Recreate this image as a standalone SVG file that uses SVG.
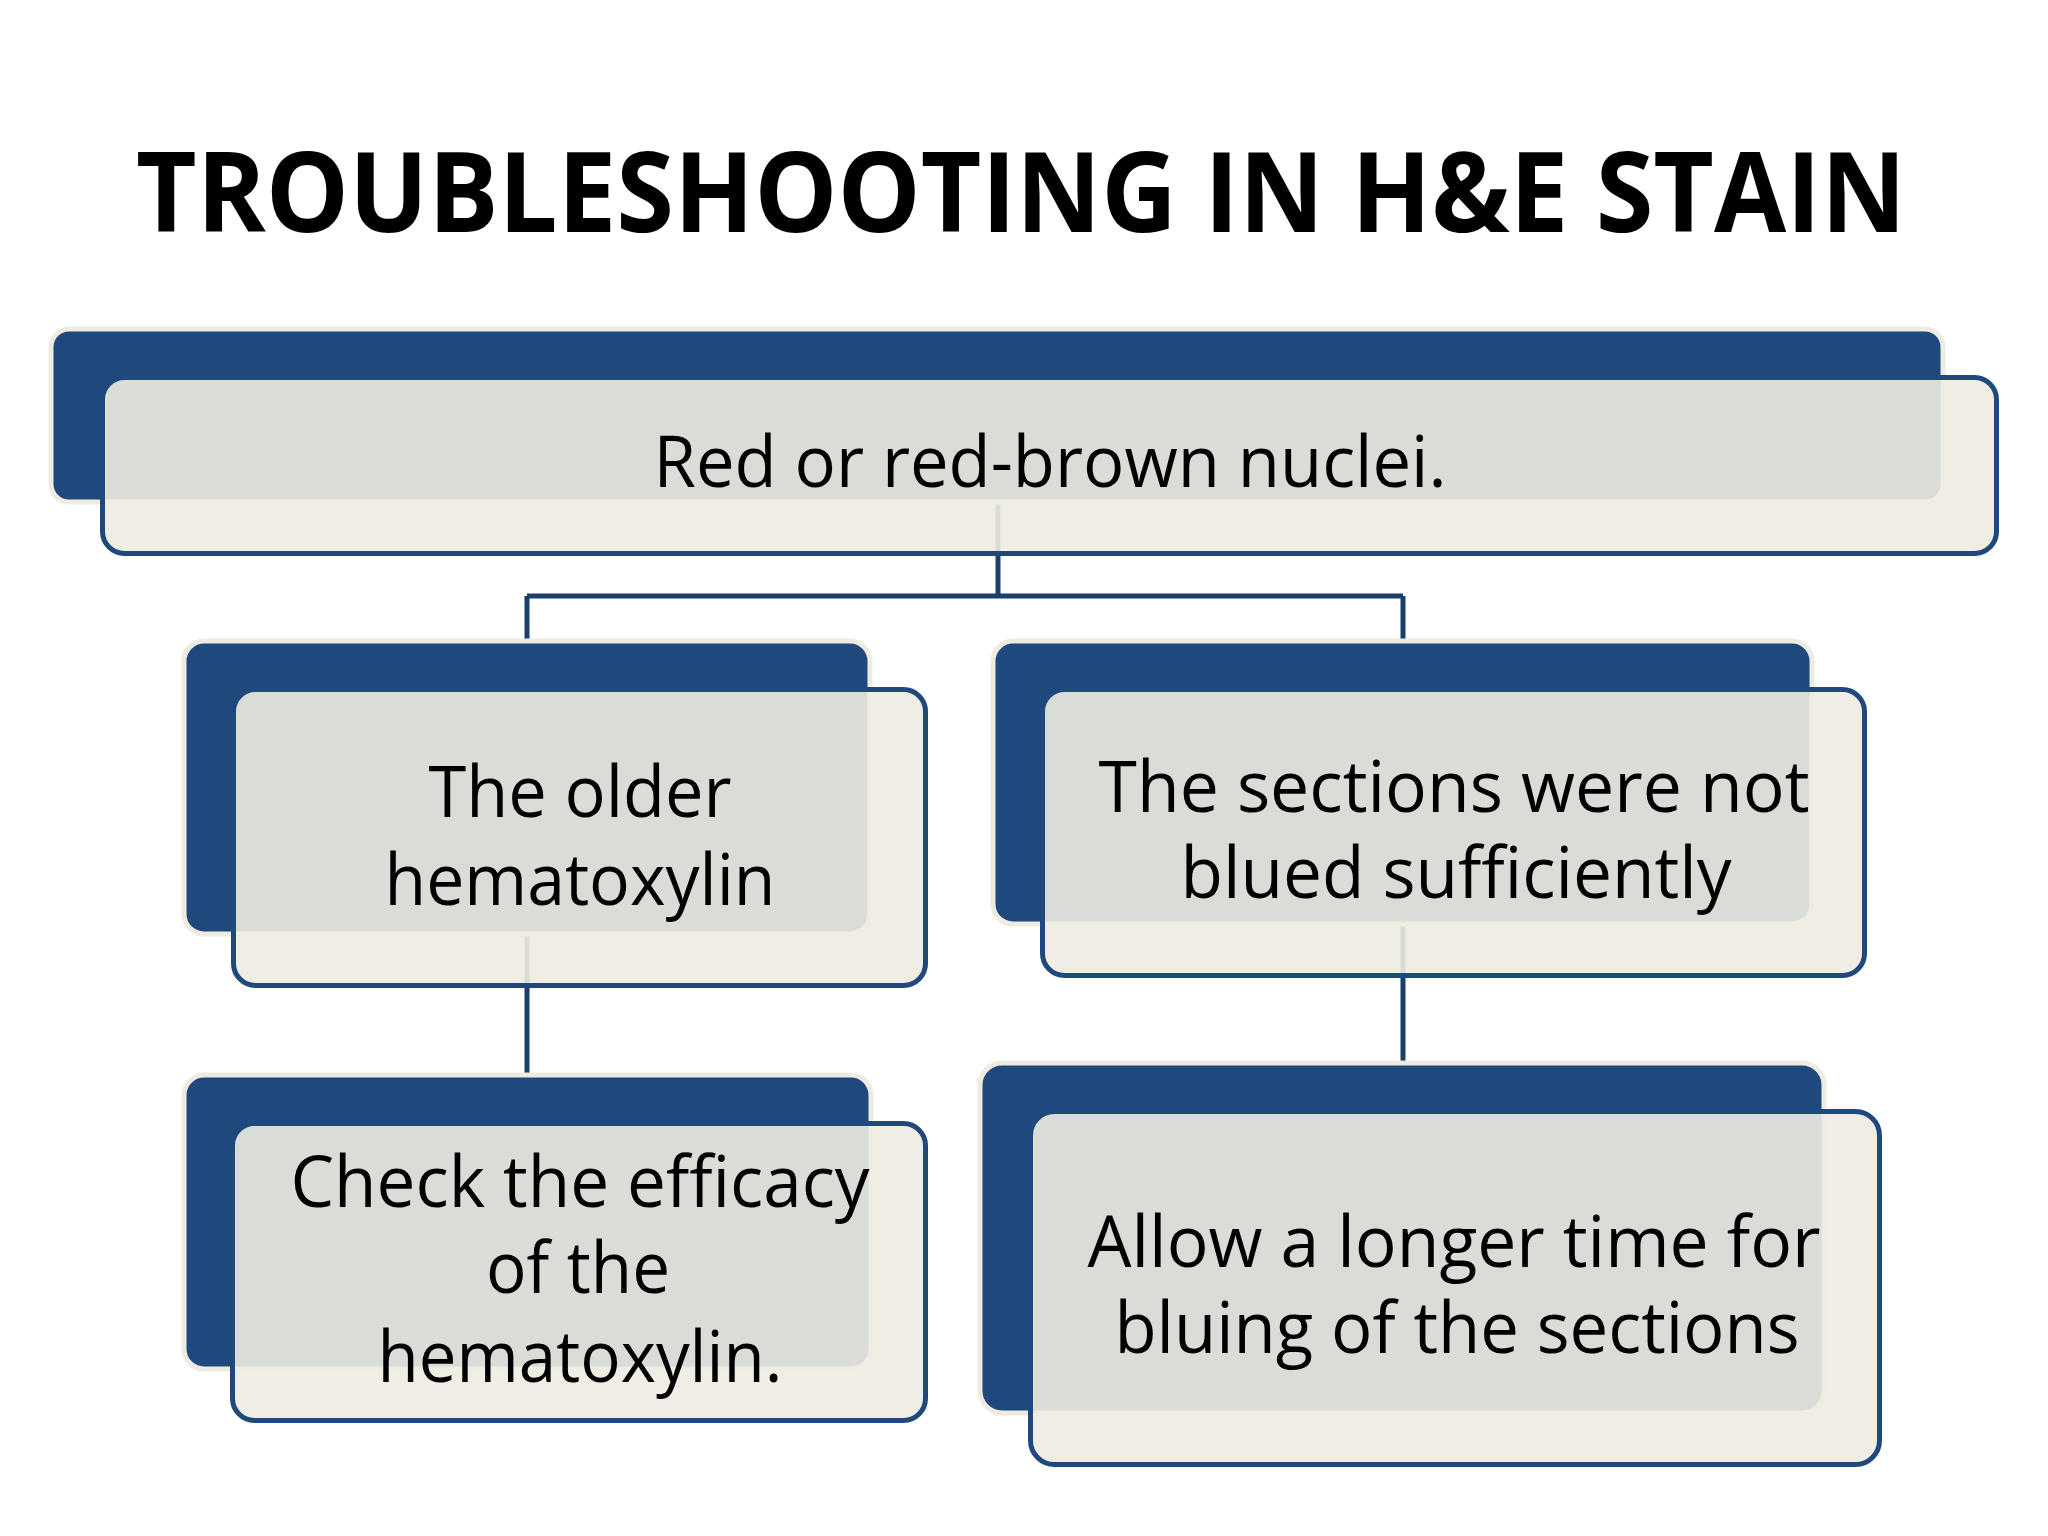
<svg xmlns="http://www.w3.org/2000/svg" width="2048" height="1536" viewBox="0 0 2048 1536">
<style>
.back{fill:#1F497D;stroke:#EEECE1;stroke-width:5}
.front{fill:#EEECE1;fill-opacity:0.9;stroke:#1F497D;stroke-width:5}
.t{font-family:"Open Sans","Liberation Sans",sans-serif;font-size:72px;fill:#000;text-anchor:middle}
.title{font-family:"Open Sans","Liberation Sans",sans-serif;font-size:112px;font-weight:bold;fill:#000;text-anchor:middle}
.conn{fill:none;stroke:#1B3F6D;stroke-width:5}
</style>
<rect width="2048" height="1536" fill="#FFFFFF"/>
<text class="title" x="1021" y="232" textLength="1770" lengthAdjust="spacingAndGlyphs">TROUBLESHOOTING IN H&amp;E STAIN</text>
<g id="connectors">
<path class="conn" d="M998 500 V596 M527 596 H1403 M527 596 V641 M1403 596 V641"/>
<path class="conn" d="M527 933 V1075"/>
<path class="conn" d="M1403 923 V1063"/>
</g>
<g id="node-top">
<rect class="back" x="51" y="329" width="1892" height="173" rx="18"/>
<rect class="front" x="102.5" y="377.5" width="1894" height="176" rx="22"/>
<text class="t" x="1050" y="487" textLength="793" lengthAdjust="spacingAndGlyphs">Red or red-brown nuclei.</text>
</g>
<g id="node-older">
<rect class="back" x="184" y="641" width="686" height="293" rx="20"/>
<rect class="front" x="233.5" y="689.5" width="692" height="296" rx="22"/>
<text class="t" x="580" y="817" textLength="303" lengthAdjust="spacingAndGlyphs">The older</text>
<text class="t" x="580" y="905" textLength="391" lengthAdjust="spacingAndGlyphs">hematoxylin</text>
</g>
<g id="node-blued">
<rect class="back" x="993" y="641" width="819" height="283" rx="20"/>
<rect class="front" x="1042.5" y="689.5" width="822" height="286" rx="22"/>
<text class="t" x="1454" y="812" textLength="711" lengthAdjust="spacingAndGlyphs">The sections were not</text>
<text class="t" x="1456" y="898" textLength="551" lengthAdjust="spacingAndGlyphs">blued sufficiently</text>
</g>
<g id="node-check">
<rect class="back" x="184" y="1075" width="687" height="294" rx="20"/>
<rect class="front" x="232.5" y="1123.5" width="693" height="297" rx="22"/>
<text class="t" x="580" y="1207" textLength="579" lengthAdjust="spacingAndGlyphs">Check the efficacy</text>
<text class="t" x="578" y="1293" textLength="184" lengthAdjust="spacingAndGlyphs">of the</text>
<text class="t" x="580" y="1382" textLength="405" lengthAdjust="spacingAndGlyphs">hematoxylin.</text>
</g>
<g id="node-allow">
<rect class="back" x="980" y="1063" width="844" height="350" rx="22"/>
<rect class="front" x="1030.5" y="1111.5" width="849" height="353" rx="24"/>
<text class="t" x="1454" y="1267" textLength="733" lengthAdjust="spacingAndGlyphs">Allow a longer time for</text>
<text class="t" x="1457" y="1353" textLength="685" lengthAdjust="spacingAndGlyphs">bluing of the sections</text>
</g>
</svg>
